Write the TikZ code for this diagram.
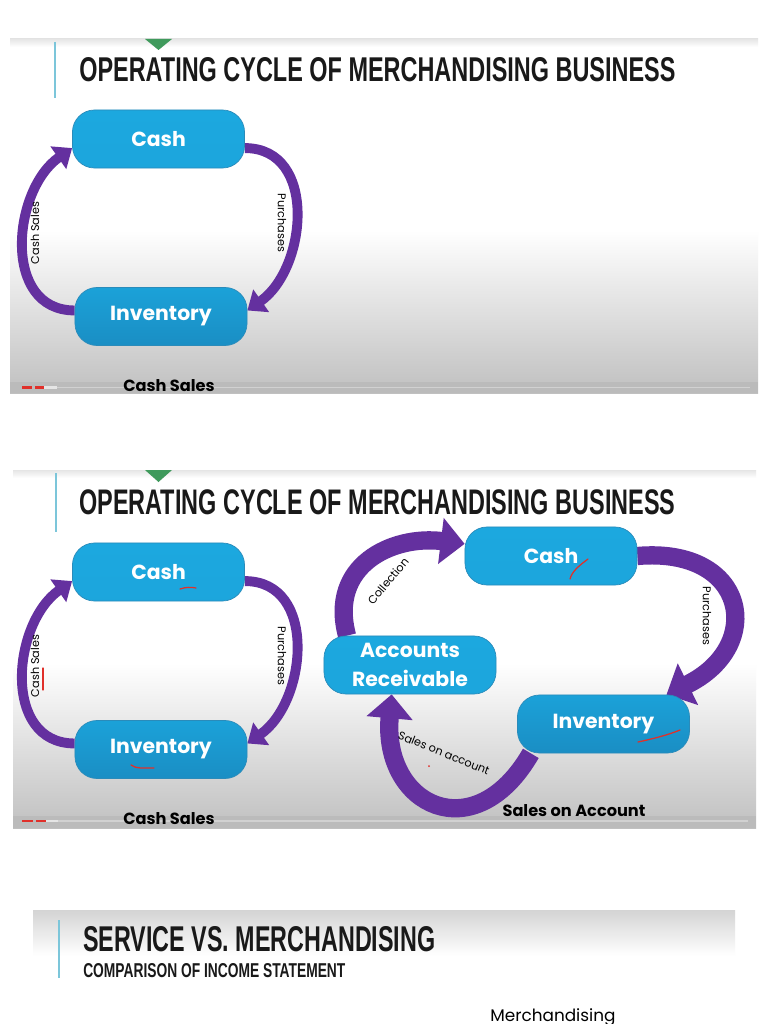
\documentclass[tikz,border=0pt]{standalone}
\usepackage{fontspec}
\usepackage{graphicx}
\usetikzlibrary{arrows.meta,positioning}
\newfontfamily\gothicfont{Poppins}
\newfontfamily\agencyfont{Liberation Sans}
\definecolor{boxblue}{HTML}{1CA8DF}
\definecolor{boxdeep}{HTML}{1A8EC4}
\definecolor{boxedge}{HTML}{2A8BBA}
\definecolor{flowpurple}{HTML}{64309F}
\definecolor{titleline}{HTML}{7CC6DA}
\definecolor{ribbon}{HTML}{3F9A5C}
\definecolor{inkred}{HTML}{E0302A}
\definecolor{slidegray}{HTML}{C0C0C0}
\definecolor{bargray}{HTML}{BBBBBB}
\pgfdeclareverticalshading{slidefade}{100bp}{color(0bp)=(slidegray); color(25bp)=(slidegray); color(48bp)=(white); color(100bp)=(white)}
\pgfdeclareverticalshading{headfade}{100bp}{color(0bp)=(white); color(55bp)=(white); color(75bp)=(black!17); color(100bp)=(black!17)}
\pgfdeclarelayer{back}
\pgfsetlayers{back,main}
\newcommand{\slidehead}[3]{\resizebox{#1}{#2}{\agencyfont\bfseries #3}}

\begin{document}
\begin{tikzpicture}[x=0.025cm, y=0.025cm,
    box/.style={rectangle, rounded corners=0.55cm, draw=boxedge, line width=0.5pt, minimum width=4.3cm, minimum height=1.45cm, text=white, font=\gothicfont\bfseries\fontsize{14.5}{21}\selectfont, align=center, inner sep=0pt},
    cashbox/.style={box, top color=boxblue, bottom color=boxblue!90!boxdeep},
    invbox/.style={box, top color=boxblue!75!boxdeep, bottom color=boxdeep},
    flow/.style={flowpurple, line width=7pt, -{Triangle[length=12pt, width=19pt]}},
    bigflow/.style={flowpurple, line width=13pt, -{Triangle[length=17pt, width=32pt]}},
    arclabel/.style={font=\gothicfont\fontsize{8}{10}\selectfont, inner sep=0pt},
    sumlabel/.style={font=\gothicfont\bfseries\fontsize{11.5}{14}\selectfont, inner sep=0pt},
    headline/.style={anchor=south west, inner sep=0pt, text=black!90},
    ink/.style={inkred, line width=0.9pt, line cap=round}
]
    \useasboundingbox (0,0) rectangle (768,-1024);

    % Slide 1: simple cycle
    \node[cashbox] (cashA) at (158.5,-139) {Cash};
    \node[invbox] (invA) at (161,-316.5) {Inventory};
    \node[headline] (titleA) at (79,-82) {\slidehead{14.9cm}{0.6cm}{OPERATING CYCLE OF MERCHANDISING BUSINESS}};
    \node[arclabel, rotate=90] (cashSalesA) at (35,-233) {Cash Sales};
    \node[arclabel, rotate=-90] (purchA) at (282,-223) {Purchases};
    \node[sumlabel] (sumA) at (169,-386) {Cash Sales};

    % Slide 2: both cycles
    \node[cashbox] (cashB) at (158.5,-572) {Cash};
    \node[invbox] (invB) at (161,-749.5) {Inventory};
    \node[headline] (titleB) at (79,-515) {\slidehead{14.9cm}{0.62cm}{OPERATING CYCLE OF MERCHANDISING BUSINESS}};
    \node[arclabel, rotate=90] (cashSalesB) at (35,-666) {Cash Sales};
    \node[arclabel, rotate=-90] (purchB) at (282,-656) {Purchases};
    \node[sumlabel] (sumB) at (169,-819) {Cash Sales};

    \node[cashbox] (cashC) at (551,-556) {Cash};
    \node[cashbox] (recvC) at (410,-665) {Accounts\\Receivable};
    \node[invbox] (invC) at (603.5,-724) {Inventory};
    \node[arclabel, rotate=50] (collectC) at (388,-581) {Collection};
    \node[arclabel, rotate=-90] (purchC) at (707,-616) {Purchases};
    \node[arclabel, rotate=-22] (onAcctC) at (444,-753) {Sales on account};
    \node[sumlabel] (sumC) at (574,-811) {Sales on Account};

    % Slide 3: comparison heading
    \node[headline] (titleD) at (83,-952) {\slidehead{8.8cm}{0.625cm}{SERVICE VS. MERCHANDISING}};
    \node[headline, below=0.28cm of titleD.south west, anchor=north west] (subD) {\slidehead{6.55cm}{0.35cm}{COMPARISON OF INCOME STATEMENT}};
    \node[anchor=base west, inner sep=0pt, font=\gothicfont\fontsize{12}{14}\selectfont] (merchD) at (490,-1021) {Merchandising};

    \begin{pgfonlayer}{back}
        % Slide backgrounds
        \fill[white] (0,0) rectangle (768,-1024);
        \shade[shading=slidefade] (10,-39) rectangle (758,-393);
        \shade[top color=black!10, bottom color=white] (10,-39) rectangle (758,-47);
        \fill[bargray] (10,-382) rectangle (758,-393);
        \shade[shading=slidefade] (13,-470) rectangle (756,-828);
        \shade[top color=black!10, bottom color=white] (13,-470) rectangle (756,-478);
        \fill[bargray] (13,-816) rectangle (756,-828);
        \shade[shading=headfade] (33,-910) rectangle (735,-1024);

        % Slide decorations
        \draw[titleline, line width=1.2pt] (55,-42) -- (55,-98);
        \fill[ribbon] (145,-39) -- (172,-39) -- (158.5,-50) -- cycle;
        \draw[black!18, line width=1pt] (57,-387.5) -- (750,-387.5);
        \draw[inkred, line width=2pt] (22,-387.5) -- (32,-387.5) (35,-387.5) -- (44,-387.5);
        \draw[white!90!black, line width=2pt] (44,-387.5) -- (57,-387.5);

        \draw[titleline, line width=1.2pt] (56,-473) -- (56,-532);
        \fill[ribbon] (145,-470) -- (172,-470) -- (158.5,-482) -- cycle;
        \draw[black!18, line width=1pt] (58,-821) -- (748,-821);
        \draw[inkred, line width=2pt] (22,-821) -- (33,-821) (36,-821) -- (46,-821);
        \draw[white!90!black, line width=2pt] (46,-821) -- (58,-821);

        \draw[titleline, line width=1.2pt] (59,-920) -- (59,-978);

        % Cycle arrows
        \draw[flow] (invA.176) to[out=180, in=215, looseness=1.15] (cashA.186);
        \draw[flow] (cashA.-6) to[out=0, in=35, looseness=1.15] (invA.4);
        \draw[flow] (invB.176) to[out=180, in=215, looseness=1.15] (cashB.186);
        \draw[flow] (cashB.-6) to[out=0, in=35, looseness=1.15] (invB.4);
        \draw[bigflow] (recvC.155) to[out=105, in=173, looseness=1.25] (cashC.172);
        \draw[bigflow] (cashC.east) to[out=5, in=26, looseness=2] (invC.25);
        \draw[bigflow] (invC.202) to[out=240, in=265, looseness=1.9] (recvC.238);
    \end{pgfonlayer}

    % Hand-drawn marks
    \draw[ink] (180,-589) .. controls (186,-587) and (191,-587) .. (196,-588);
    \draw[ink] (131,-765) .. controls (136,-769) and (145,-768) .. (154,-768);
    \draw[ink] (43,-668) -- (43,-690);
    \draw[ink] (570,-579) .. controls (572,-571) and (580,-565) .. (588,-559);
    \draw[ink] (638,-742) .. controls (652,-739) and (668,-735) .. (680,-730);
    \fill[inkred] (429,-766) circle (1);

\end{tikzpicture}
\end{document}
